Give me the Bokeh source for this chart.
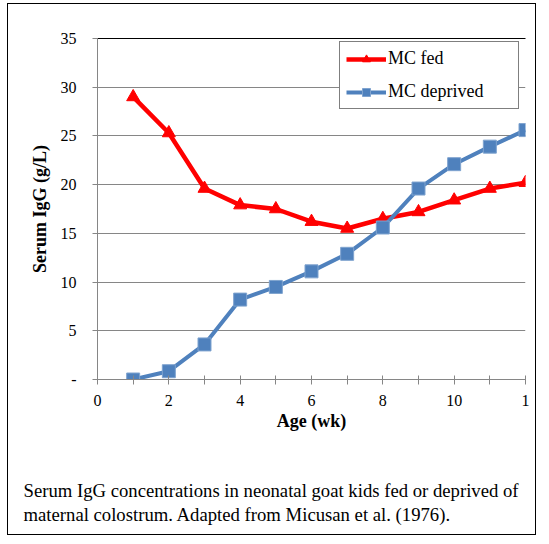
from bokeh.plotting import figure
from bokeh.models import (Range1d, FixedTicker, Legend, LegendItem, LinearAxis, Title)
from bokeh.embed import file_html
from bokeh.resources import INLINE

# ---- data -------------------------------------------------------------
weeks = [1, 2, 3, 4, 5, 6, 7, 8, 9, 10, 11, 12]
mc_fed = [29.0, 25.3, 19.6, 17.9, 17.5, 16.2, 15.5, 16.5, 17.2, 18.4, 19.6, 20.2]
mc_deprived = [0.0, 0.85, 3.6, 8.2, 9.5, 11.1, 12.9, 15.6, 19.6, 22.1, 23.9, 25.6]
series_names = ["MC fed", "MC deprived"]

x_ticks = [0, 2, 4, 6, 8, 10, 12]
x_tick_labels = ["0", "2", "4", "6", "8", "10", "1"]
x_minor_ticks = [1, 3, 5, 7, 9, 11]
y_ticks = [0, 5, 10, 15, 20, 25, 30, 35]
y_tick_labels = ["-", "5", "10", "15", "20", "25", "30", "35"]

x_title = "Age (wk)"
y_title = "Serum IgG (g/L)"
caption_lines = [
    "Serum IgG concentrations in neonatal goat kids fed or deprived of",
    "maternal colostrum.  Adapted from Micusan et al. (1976).",
]

# ---- style ------------------------------------------------------------
FONT = "Liberation Serif"
GRAY = "#868686"
RED = "#FF0000"
BLUE = "#4F81BD"

p = figure(width=529, height=532, output_backend="svg", toolbar_location=None,
           x_range=Range1d(0, 12), y_range=Range1d(0, 35),
           min_border_left=89, min_border_right=12,
           min_border_top=34, min_border_bottom=157)
p.margin = (3, 0, 0, 7)
p.styles = {"border": "1px solid black"}
p.outline_line_color = None
p.background_fill_color = "white"
p.border_fill_color = "white"

p.xgrid.visible = False
p.ygrid.ticker = FixedTicker(ticks=y_ticks)
p.ygrid.grid_line_color = GRAY
p.ygrid.grid_line_width = 1

# x axis
xa = p.xaxis[0]
xa.ticker = FixedTicker(ticks=x_ticks, minor_ticks=x_minor_ticks)
xa.major_label_overrides = dict(zip(x_ticks, x_tick_labels))
xa.axis_line_color = GRAY
xa.major_tick_line_color = GRAY
xa.minor_tick_line_color = GRAY
xa.major_tick_in = 4
xa.major_tick_out = 5
xa.minor_tick_in = 4
xa.minor_tick_out = 5
xa.major_label_text_font = FONT
xa.major_label_text_font_size = "16px"
xa.major_label_text_color = "black"
xa.major_label_standoff = 10
xa.axis_label = x_title
xa.axis_label_text_font = FONT
xa.axis_label_text_font_size = "18px"
xa.axis_label_text_font_style = "bold"
xa.axis_label_text_color = "black"
xa.axis_label_standoff = 2

# y axis
ya = p.yaxis[0]
ya.ticker = FixedTicker(ticks=y_ticks)
ya.major_label_overrides = dict(zip(y_ticks, y_tick_labels))
ya.axis_line_color = GRAY
ya.major_tick_line_color = GRAY
ya.minor_tick_line_color = None
ya.major_tick_in = 0
ya.major_tick_out = 5
ya.major_label_text_font = FONT
ya.major_label_text_font_size = "16px"
ya.major_label_text_color = "black"
ya.major_label_standoff = 16
ya.axis_label = y_title
ya.axis_label_text_font = FONT
ya.axis_label_text_font_size = "18px"
ya.axis_label_text_font_style = "bold"
ya.axis_label_text_color = "black"
ya.axis_label_standoff = 8

# top border line of plot area
top = LinearAxis(ticker=FixedTicker(ticks=[]), axis_line_color="black",
                 major_tick_line_color=None, minor_tick_line_color=None,
                 major_label_text_font_size="0px")
p.add_layout(top, "above")

# ---- series -----------------------------------------------------------
r1 = p.line(weeks, mc_fed, line_color=RED, line_width=4.5)
m1 = p.scatter(weeks, mc_fed, marker="triangle", size=13,
               fill_color=RED, line_color=RED)
r2 = p.line(weeks, mc_deprived, line_color=BLUE, line_width=4)
m2 = p.scatter(weeks, mc_deprived, marker="square", size=13,
               fill_color=BLUE, line_color="#7FA3CF", line_width=1)

legend = Legend(items=[LegendItem(label=series_names[0], renderers=[r1, m1]),
                       LegendItem(label=series_names[1], renderers=[r2, m2])],
                location=(242, 270), orientation="vertical")
legend.label_text_font = FONT
legend.label_text_font_size = "18px"
legend.label_text_color = "black"
legend.label_height = 20
legend.glyph_height = 20
legend.glyph_width = 40
legend.spacing = 12
legend.padding = 6
legend.margin = 0
legend.label_standoff = 2
legend.label_width = 124
legend.border_line_color = "black"
legend.border_line_width = 1.5
legend.background_fill_color = "white"
legend.background_fill_alpha = 1
p.add_layout(legend, "center")

# ---- spacer between x axis and caption (white on white, no labels) ---
spacer = LinearAxis(ticker=FixedTicker(ticks=[0]), axis_line_color=None,
                    major_tick_line_color="white", minor_tick_line_color=None,
                    major_tick_out=45, major_tick_in=0,
                    major_label_standoff=0, major_label_text_font_size="1px",
                    major_label_text_color=None)
p.add_layout(spacer, "below")

# ---- caption (left-aligned two-line title below the x axis) ----------
caption = Title(text="\n".join(caption_lines), align="left", offset=-74,
                standoff=0, text_line_height=1.16,
                text_font=FONT, text_font_size="18.7px", text_font_style="normal",
                text_color="black")
p.add_layout(caption, "below")

open("out.html", "w").write(file_html(p, INLINE))
